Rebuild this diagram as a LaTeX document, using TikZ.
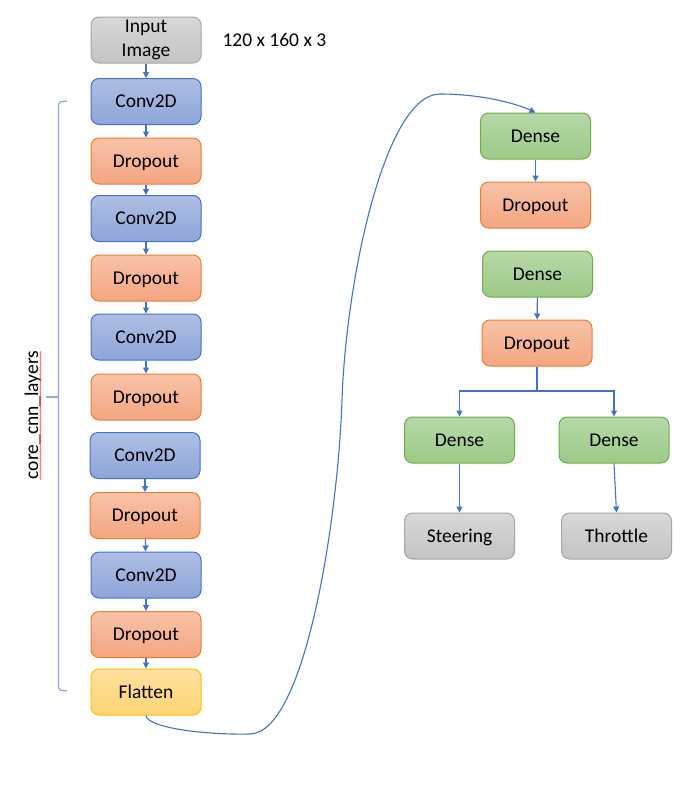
\documentclass[tikz,border=0pt]{standalone}
\usepackage{fontspec}
\setmainfont{Carlito}
\usetikzlibrary{arrows.meta,decorations.pathmorphing}
\definecolor{cblue}{HTML}{4472C4}
\definecolor{bluetop}{HTML}{AEBEE4}
\definecolor{bluebot}{HTML}{8EA5DA}
\definecolor{orgline}{HTML}{ED7D31}
\definecolor{orgtop}{HTML}{F8C3A9}
\definecolor{orgbot}{HTML}{F4A580}
\definecolor{grnline}{HTML}{70AD47}
\definecolor{grntop}{HTML}{B7D8A9}
\definecolor{grnbot}{HTML}{9CCA86}
\definecolor{gryline}{HTML}{A5A5A5}
\definecolor{grytop}{HTML}{D8D8D8}
\definecolor{grybot}{HTML}{C3C3C3}
\definecolor{ylwline}{HTML}{FFC000}
\definecolor{ylwtop}{HTML}{FFE0A0}
\definecolor{ylwbot}{HTML}{FFD474}
\definecolor{bracecol}{HTML}{8FAADC}
\tikzset{
  layer/.style={rounded corners=8pt, minimum width=110pt, minimum height=46pt,
    line width=1pt, font=\fontsize{19.5}{24}\selectfont, align=center, inner sep=0pt,
    text height=14pt, text depth=1.6pt},
  convbox/.style={layer, draw=cblue, top color=bluetop, bottom color=bluebot},
  dropbox/.style={layer, draw=orgline, top color=orgtop, bottom color=orgbot},
  densebox/.style={layer, draw=grnline, top color=grntop, bottom color=grnbot},
  graybox/.style={layer, draw=gryline, top color=grytop, bottom color=grybot},
  flatbox/.style={layer, draw=ylwline, top color=ylwtop, bottom color=ylwbot},
  conn/.style={draw=cblue, line width=1.1pt, -{Triangle[length=6pt,width=6pt]}},
  plain/.style={draw=cblue, line width=1.1pt}
}
\begin{document}
\begin{tikzpicture}[x=1pt,y=-1pt]
\useasboundingbox[fill=white] (0,0) rectangle (688,785);
% left column
\node[graybox, text height={}, text depth={}] (inp) at (146,40) {Input\\Image};
\node[font=\fontsize{19.5}{24}\selectfont, anchor=west] (dim) at (219,40) {120 x 160 x 3};
\node[convbox] (c1) at (146,101.5) {Conv2D};
\node[dropbox] (d1) at (146,161) {Dropout};
\node[convbox] (c2) at (146,218.5) {Conv2D};
\node[dropbox] (d2) at (146,278) {Dropout};
\node[convbox] (c3) at (146,337) {Conv2D};
\node[dropbox] (d3) at (146,397) {Dropout};
\node[convbox] (c4) at (145,455.5) {Conv2D};
\node[dropbox] (d4) at (145,515.5) {Dropout};
\node[convbox] (c5) at (146,575) {Conv2D};
\node[dropbox] (d5) at (146,634.5) {Dropout};
\node[flatbox] (fl) at (146,692) {Flatten};
\draw[conn] (inp) -- (c1);
\draw[conn] (c1) -- (d1);
\draw[conn] (d1) -- (c2);
\draw[conn] (c2) -- (d2);
\draw[conn] (d2) -- (c3);
\draw[conn] (c3) -- (d3);
\draw[conn] (c4) -- (d4);
\draw[conn] (d4) -- (c5);
\draw[conn] (c5) -- (d5);
\draw[conn] (d5) -- (fl);
% brace and label
\coordinate (bt) at (67,101);
\coordinate (bb) at (67,691);
\coordinate (bm) at (46,397);
\draw[draw=bracecol, line width=1.3pt, rounded corners=2pt] (bt) -- (58.5,102) -- (58.5,690) -- (bb);
\draw[draw=bracecol, line width=1.3pt] (58.5,397) -- (bm);
\node[rotate=90, font=\fontsize{19.5}{24}\selectfont, inner sep=0pt] (lbl) at (33,415) {core\_cnn\_layers};
\draw[red!70!white, line width=0.5pt, decorate, decoration={snake, amplitude=0.7pt, segment length=2.4pt}] (40.5,351) -- (40.5,480);
% right column
\node[densebox] (r1) at (535.5,136) {Dense};
\node[dropbox] (r2) at (535.5,205) {Dropout};
\node[densebox] (r3) at (537.5,274) {Dense};
\node[dropbox] (r4) at (537,343) {Dropout};
\node[densebox] (dl) at (459.5,440) {Dense};
\node[densebox] (dr) at (614,440) {Dense};
\node[graybox] (st) at (459.5,536) {Steering};
\node[graybox] (th) at (616.5,536) {Throttle};
\draw[conn] (r1) -- (r2);
\draw[conn] (r3) -- (r4);
\coordinate (br) at (537,391);
\draw[plain] (r4.south) -- (br);
\draw[conn] (br) -| (dl.north);
\draw[conn] (br) -| (dr.north);
\draw[conn] (dl) -- (st);
\draw[conn] (dr.south) -- (th.north);
% long curved connector
\coordinate (k1) at (250,734);
\coordinate (k2) at (342,400);
\coordinate (k3) at (440,94);
\draw[conn] (fl.south) .. controls (147,727) and (200,735) .. (k1)
  .. controls (305,733) and (338,520) .. (k2)
  .. controls (346,280) and (385,94) .. (k3)
  .. controls (480,94) and (515,103) .. (r1.north);
\end{tikzpicture}
\end{document}
